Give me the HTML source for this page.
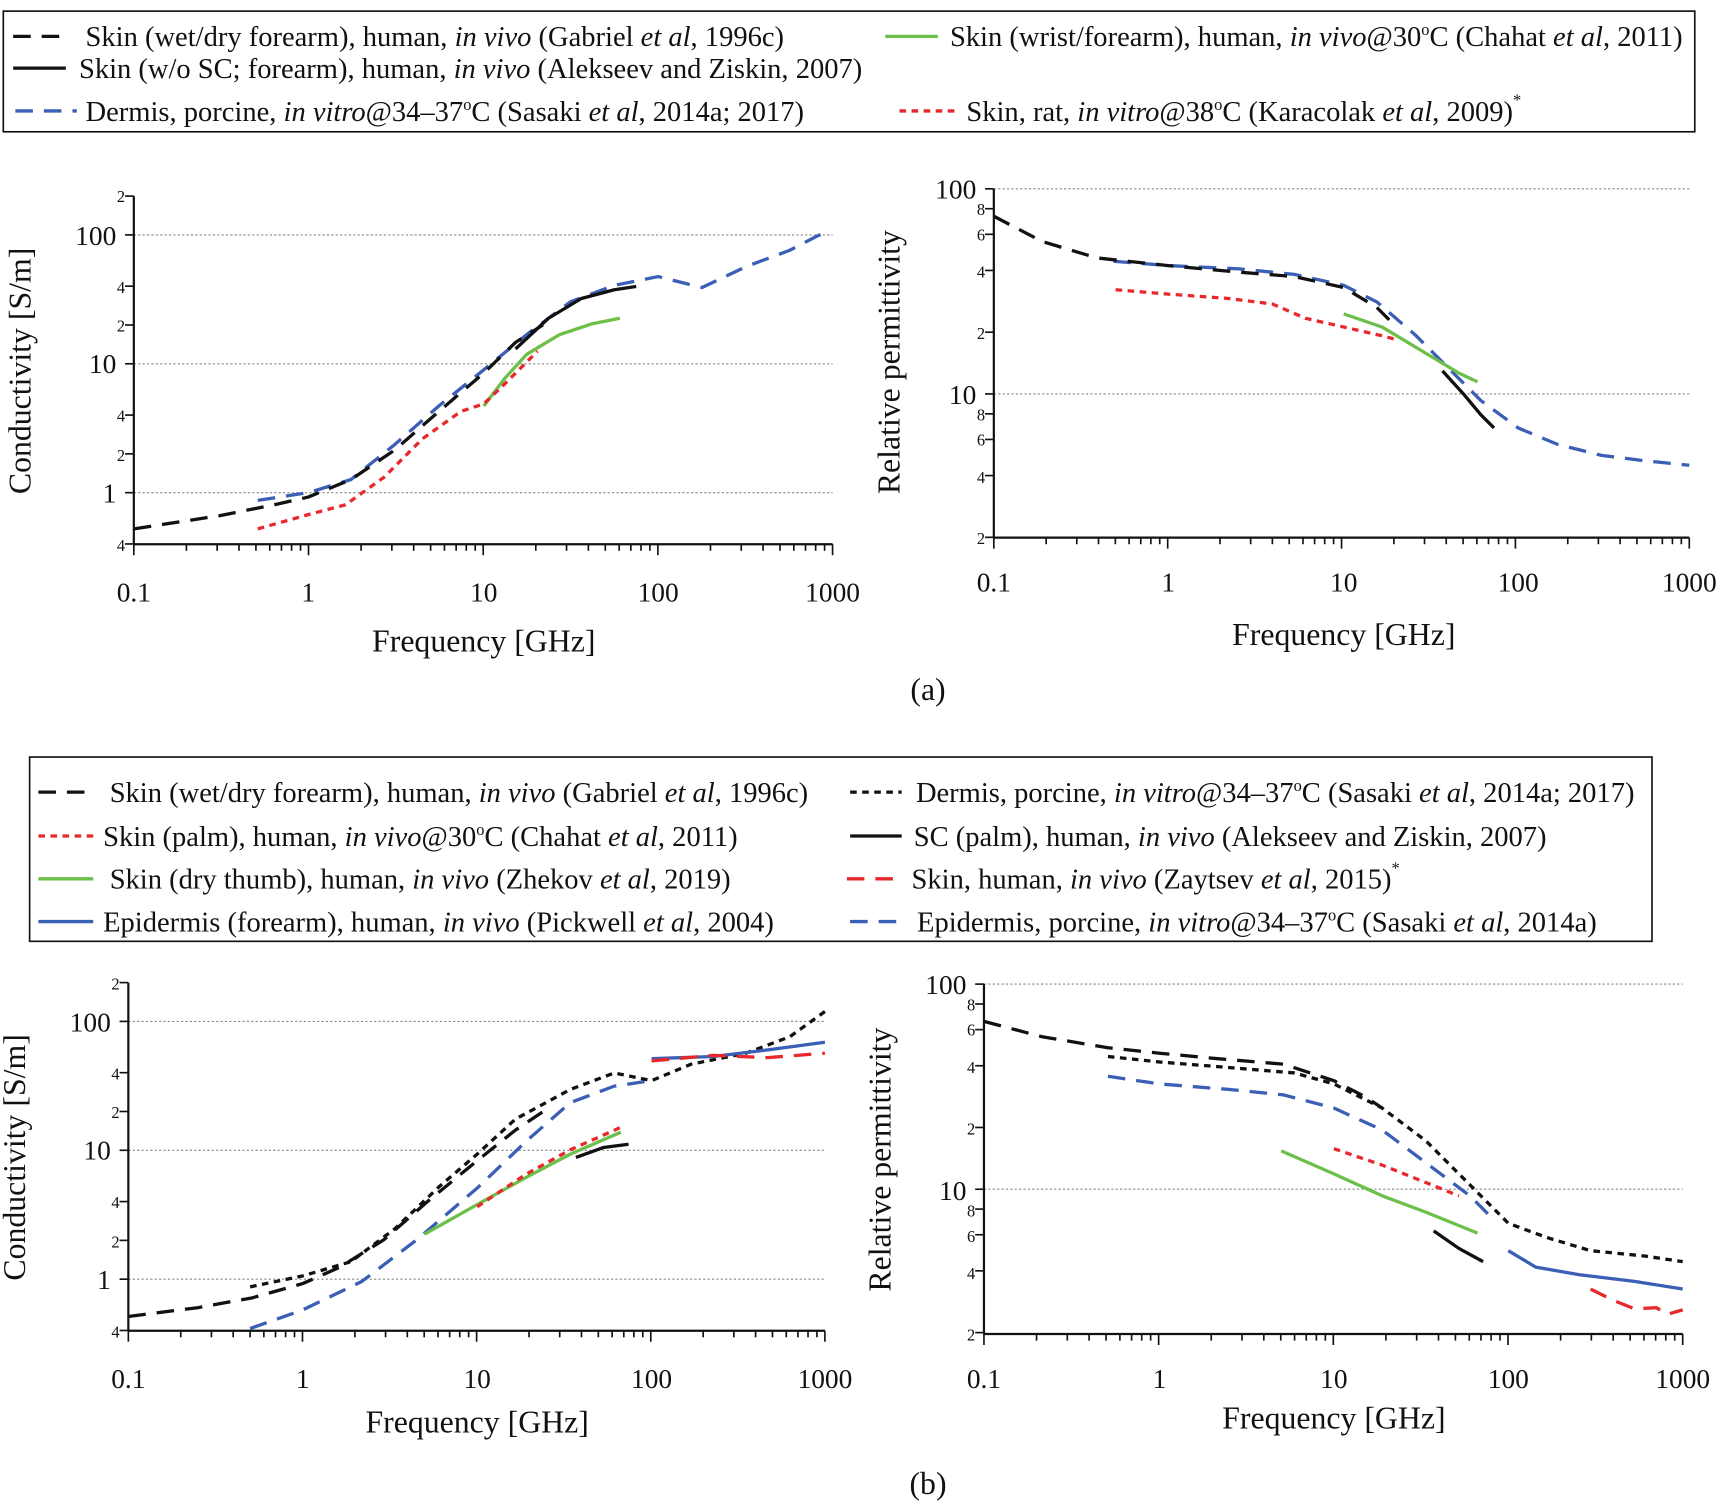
<!DOCTYPE html>
<html><head><meta charset="utf-8"><style>
html,body{margin:0;padding:0;background:#fff}
svg{display:block}
text{font-family:"Liberation Serif",serif;fill:#111}
.lg{font-size:26px}
.tl{font-size:25px}
.sm{font-size:15px}
.at{font-size:29px}
</style></head><body>
<svg id="s" width="1720" height="1502" viewBox="0 0 1568 1369" xmlns="http://www.w3.org/2000/svg">
<g id="g"></g>
<!-- Legend (a) -->
<rect x="3" y="10" width="1542" height="110" fill="none" stroke="#111" stroke-width="1.5"/>
<line x1="12" y1="33" x2="62" y2="33" stroke="#111" stroke-width="3" stroke-dasharray="16,10"/>
<text class="lg" x="78" y="42">Skin (wet/dry forearm), human, <tspan font-style="italic">in vivo</tspan> (Gabriel <tspan font-style="italic">et al</tspan>, 1996c)</text>
<line x1="807" y1="33" x2="855" y2="33" stroke="#6cc04a" stroke-width="3"/>
<text class="lg" x="866" y="42">Skin (wrist/forearm), human, <tspan font-style="italic">in vivo</tspan>@30<tspan dy="-10" font-size="15">o</tspan><tspan dy="10">C (Chahat </tspan><tspan font-style="italic">et al</tspan>, 2011)</text>
<line x1="12" y1="62" x2="60" y2="62" stroke="#111" stroke-width="3"/>
<text class="lg" x="72" y="71">Skin (w/o SC; forearm),  human, <tspan font-style="italic">in vivo</tspan> (Alekseev and Ziskin, 2007)</text>
<line x1="14" y1="101" x2="70" y2="101" stroke="#3a5fb5" stroke-width="3" stroke-dasharray="16,10"/>
<text class="lg" x="78" y="110">Dermis, porcine, <tspan font-style="italic">in vitro</tspan>@34–37<tspan dy="-10" font-size="15">o</tspan><tspan dy="10">C (Sasaki </tspan><tspan font-style="italic">et al</tspan>, 2014a; 2017)</text>
<line x1="820" y1="101" x2="870" y2="101" stroke="#e8282c" stroke-width="3" stroke-dasharray="6,5"/>
<text class="lg" x="881" y="110">Skin, rat, <tspan font-style="italic">in vitro</tspan>@38<tspan dy="-10" font-size="15">o</tspan><tspan dy="10">C  (Karacolak </tspan><tspan font-style="italic">et al</tspan>, 2009)<tspan dy="-14" font-size="15">*</tspan></text>

<!-- Legend (b) -->
<rect x="27" y="690" width="1479" height="168" fill="none" stroke="#111" stroke-width="1.5"/>
<line x1="35" y1="722" x2="85" y2="722" stroke="#111" stroke-width="3" stroke-dasharray="16,10"/>
<text class="lg" x="100" y="731">Skin (wet/dry forearm), human, <tspan font-style="italic">in vivo</tspan> (Gabriel <tspan font-style="italic">et al</tspan>, 1996c)</text>
<line x1="775" y1="722" x2="822" y2="722" stroke="#111" stroke-width="3" stroke-dasharray="6,5"/>
<text class="lg" x="835" y="731">Dermis, porcine, <tspan font-style="italic">in vitro</tspan>@34–37<tspan dy="-10" font-size="15">o</tspan><tspan dy="10">C (Sasaki </tspan><tspan font-style="italic">et al</tspan>, 2014a; 2017)</text>
<line x1="35" y1="762" x2="85" y2="762" stroke="#e8282c" stroke-width="3" stroke-dasharray="6,5"/>
<text class="lg" x="94" y="771">Skin (palm),  human, <tspan font-style="italic">in vivo</tspan>@30<tspan dy="-10" font-size="15">o</tspan><tspan dy="10">C (Chahat </tspan><tspan font-style="italic">et al</tspan>, 2011)</text>
<line x1="775" y1="762" x2="822" y2="762" stroke="#111" stroke-width="3"/>
<text class="lg" x="833" y="771">SC (palm), human, <tspan font-style="italic">in vivo</tspan> (Alekseev and Ziskin, 2007)</text>
<line x1="35" y1="801" x2="85" y2="801" stroke="#6cc04a" stroke-width="3"/>
<text class="lg" x="100" y="810">Skin (dry thumb),  human, <tspan font-style="italic">in vivo</tspan> (Zhekov <tspan font-style="italic">et al</tspan>,  2019)</text>
<line x1="772" y1="801" x2="822" y2="801" stroke="#e8282c" stroke-width="3" stroke-dasharray="16,10"/>
<text class="lg" x="831" y="810">Skin, human, <tspan font-style="italic">in vivo</tspan> (Zaytsev <tspan font-style="italic">et al</tspan>, 2015)<tspan dy="-14" font-size="15">*</tspan></text>
<line x1="35" y1="840" x2="85" y2="840" stroke="#3a5fb5" stroke-width="3"/>
<text class="lg" x="94" y="849">Epidermis (forearm), human, <tspan font-style="italic">in vivo</tspan> (Pickwell <tspan font-style="italic">et al</tspan>, 2004)</text>
<line x1="775" y1="840" x2="822" y2="840" stroke="#3a5fb5" stroke-width="3" stroke-dasharray="16,10"/>
<text class="lg" x="836" y="849">Epidermis, porcine, <tspan font-style="italic">in vitro</tspan>@34–37<tspan dy="-10" font-size="15">o</tspan><tspan dy="10">C (Sasaki </tspan><tspan font-style="italic">et al</tspan>, 2014a)</text>

<!-- X tick labels -->
<g class="tl" text-anchor="middle">
<text x="122" y="548">0.1</text><text x="281" y="548">1</text><text x="441" y="548">10</text><text x="600" y="548">100</text><text x="759" y="548">1000</text>
<text x="906" y="539">0.1</text><text x="1065" y="539">1</text><text x="1225" y="539">10</text><text x="1384" y="539">100</text><text x="1540" y="539">1000</text>
<text x="117" y="1265">0.1</text><text x="276" y="1265">1</text><text x="435" y="1265">10</text><text x="594" y="1265">100</text><text x="752" y="1265">1000</text>
<text x="897" y="1265">0.1</text><text x="1057" y="1265">1</text><text x="1216" y="1265">10</text><text x="1375" y="1265">100</text><text x="1534" y="1265">1000</text>
</g>
<g class="at" text-anchor="middle">
<text x="441" y="594">Frequency [GHz]</text>
<text x="1225" y="588">Frequency [GHz]</text>
<text x="435" y="1306">Frequency [GHz]</text>
<text x="1216" y="1302">Frequency [GHz]</text>
<text x="846" y="638">(a)</text>
<text x="846" y="1362">(b)</text>
<text transform="translate(28,338) rotate(-90)">Conductivity [S/m]</text>
<text transform="translate(820,330) rotate(-90)">Relative permittivity</text>
<text transform="translate(23,1055) rotate(-90)">Conductivity [S/m]</text>
<text transform="translate(812,1057) rotate(-90)">Relative permittivity</text>
</g>
<!-- Y tick labels -->
<g text-anchor="end">
<text class="sm" x="114" y="184">2</text><text class="tl" x="106" y="223">100</text><text class="sm" x="114" y="267">4</text><text class="sm" x="114" y="302">2</text><text class="tl" x="106" y="340">10</text><text class="sm" x="114" y="384">4</text><text class="sm" x="114" y="420">2</text><text class="tl" x="106" y="458">1</text><text class="sm" x="114" y="502">4</text>
<text class="tl" x="890" y="181">100</text><text class="sm" x="898" y="196">8</text><text class="sm" x="898" y="219">6</text><text class="sm" x="898" y="253">4</text><text class="sm" x="898" y="309">2</text><text class="tl" x="890" y="368">10</text><text class="sm" x="898" y="383">8</text><text class="sm" x="898" y="406">6</text><text class="sm" x="898" y="440">4</text><text class="sm" x="898" y="496">2</text>
<text class="sm" x="109" y="902">2</text><text class="tl" x="101" y="940">100</text><text class="sm" x="109" y="984">4</text><text class="sm" x="109" y="1019">2</text><text class="tl" x="101" y="1057">10</text><text class="sm" x="109" y="1101">4</text><text class="sm" x="109" y="1137">2</text><text class="tl" x="101" y="1175">1</text><text class="sm" x="109" y="1219">4</text>
<text class="tl" x="881" y="906">100</text><text class="sm" x="889" y="921">8</text><text class="sm" x="889" y="944">6</text><text class="sm" x="889" y="978">4</text><text class="sm" x="889" y="1034">2</text><text class="tl" x="881" y="1094">10</text><text class="sm" x="889" y="1109">8</text><text class="sm" x="889" y="1132">6</text><text class="sm" x="889" y="1166">4</text><text class="sm" x="889" y="1222">2</text>
</g>
</svg>
<script>
var g=document.getElementById('g'),NS='http://www.w3.org/2000/svg';
function el(t,a){var e=document.createElementNS(NS,t);for(var k in a)e.setAttribute(k,a[k]);g.appendChild(e);return e;}
function ln(x1,y1,x2,y2,w,c,d){var a={x1:x1,y1:y1,x2:x2,y2:y2,stroke:c||'#111','stroke-width':w||1.5};if(d)a['stroke-dasharray']=d;el('line',a);}
function axes(x0,dx,yb,y100,dy,yticks,grids){
 var x1=x0+4*dx;
 grids.forEach(function(v){var y=y100-(Math.log10(v)-2)*dy;ln(x0,y,x1,y,1,'#888','2,2');});
 ln(x0,yb,x1,yb,2);
 var yt=y100-(Math.log10(yticks[0])-2)*dy;ln(x0,yt,x0,yb,2);
 for(var d=0;d<4;d++){for(var m=1;m<10;m++){var x=x0+(d+Math.log10(m))*dx;ln(x,yb,x,yb+(m==1?10:6),1.5);}}
 ln(x1,yb,x1,yb+10,1.5);
 yticks.forEach(function(v){var y=y100-(Math.log10(v)-2)*dy;ln(x0-8,y,x0,y,1.5);});
}
axes(122,159.25,496,214,117.5,[200,100,40,20,10,4,2,1,0.4],[100,10,1]);
axes(906,158.5,490,172,187,[100,80,60,40,20,10,8,6,4,2],[100,10]);
axes(117,158.75,1213,931,117.5,[200,100,40,20,10,4,2,1,0.4],[100,10,1]);
axes(897,159.25,1216,897,187,[100,80,60,40,20,10,8,6,4,2],[100,10]);
var K='#111',B='#3a5fb5',R='#e8282c',G='#6cc04a',DA='16,10',DO='6,5';
function cv(p,c,d){var a={points:p,fill:'none',stroke:c,'stroke-width':3,'stroke-linejoin':'round'};if(d)a['stroke-dasharray']=d;el('polyline',a);}
cv('235,456 281,449 320,437 360,405 400,370 441,337 480,305 520,275 560,260 600,252 640,262 680,243 720,228 745,215 752,212',B,DA);
cv('122,482 200,470 250,460 281,453 320,437 360,410 400,375 441,340 470,312 495,296',K,DA);
cv('470,318 500,290 530,272 560,264 580,261',K);
cv('441,370 460,345 480,323 510,305 540,295 565,290',G);
cv('235,482 281,469 315,460 350,435 385,400 420,375 441,368 460,350 475,335 490,320',R,DO);
cv('1015,238 1065,242 1130,245 1180,250 1225,260 1255,275 1290,305 1320,335 1350,365 1384,390 1420,405 1460,415 1500,420 1540,424',B,DA);
cv('906,197 950,220 1000,235 1065,242 1130,248 1180,252 1225,262 1255,280 1270,295',K,DA);
cv('1017,264 1065,268 1120,272 1160,277 1190,290 1225,298 1260,306 1275,310',R,DO);
cv('1225,286 1260,298 1300,322 1330,340 1347,348',G);
cv('1315,338 1335,360 1350,378 1362,390',K);
cv('228,1211 276,1194 330,1168 380,1130 435,1083 480,1040 520,1005 560,990 594,985',B,DA);
cv('117,1200 180,1192 230,1183 276,1170 310,1155 350,1130 390,1095 435,1058 470,1030 500,1010',K,DA);
cv('228,1173 276,1163 320,1150 360,1120 400,1082 435,1052 470,1020 520,993 560,978 594,985 630,970 680,960 720,945 752,922',K,DO);
cv('594,965 650,963 700,957 752,950',B);
cv('594,967 650,962 700,964 752,960',R,DA);
cv('387,1125 435,1098 480,1073 520,1052 566,1032',G);
cv('435,1100 480,1070 520,1048 565,1028',R,DO);
cv('525,1055 550,1046 573,1043',K);
cv('897,931 950,945 1010,955 1057,960 1110,965 1170,970 1216,985 1245,1000 1260,1010',K,DA);
cv('1010,963 1057,968 1120,973 1180,978 1216,988 1260,1010 1300,1040 1340,1080 1375,1115 1410,1128 1450,1140 1500,1145 1534,1150',K,DO);
cv('1010,981 1057,988 1120,993 1170,998 1216,1010 1260,1030 1300,1060 1340,1090 1360,1110',B,DA);
cv('1168,1049 1216,1070 1260,1090 1300,1105 1347,1124',G);
cv('1216,1047 1260,1062 1300,1078 1330,1090',R,DO);
cv('1307,1122 1330,1138 1352,1150',K);
cv('1375,1140 1400,1155 1440,1162 1490,1168 1534,1175',B);
cv('1450,1175 1470,1185 1490,1193 1510,1192 1520,1198 1534,1194',R,DA);
</script>
</body></html>
